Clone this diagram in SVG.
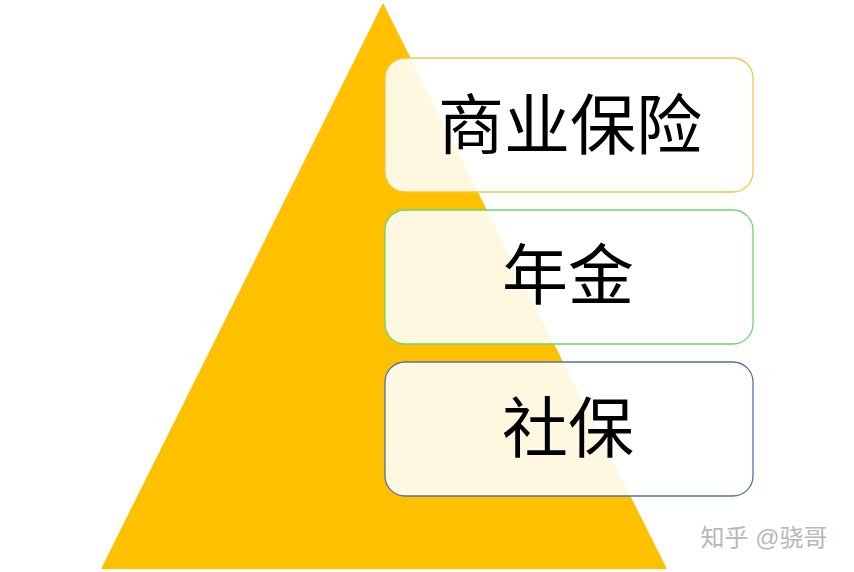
<svg xmlns="http://www.w3.org/2000/svg" width="854" height="572" viewBox="0 0 854 572">
<style>
.box{fill:#ffffff;fill-opacity:0.88;stroke-width:1.3}
.lbl{font-family:"Liberation Sans","Noto Sans CJK SC",sans-serif;font-size:66px;fill:#000;text-anchor:middle}
.wm{font-family:"Liberation Sans","Noto Sans CJK SC",sans-serif;font-size:24px;fill:#b8b8b8;text-anchor:middle}
</style>
<rect width="854" height="572" fill="#ffffff"/>
<g id="pyramid"><polygon points="383,3 101,569 667,569" fill="#ffc000"/></g>
<g id="node-commercial">
<rect class="box" x="385" y="58" width="368" height="134" rx="20" stroke="#f2c644"/>
<text class="lbl" x="570" y="149">商业保险</text>
</g>
<g id="node-annuity">
<rect class="box" x="385" y="210" width="368" height="134" rx="20" stroke="#6fd36f"/>
<text class="lbl" x="568" y="299">年金</text>
</g>
<g id="node-social">
<rect class="box" x="385" y="362" width="368" height="134" rx="20" stroke="#4f72a8"/>
<text class="lbl" x="568" y="452">社保</text>
</g>
<g id="connectors"/>
<text class="wm" x="764" y="546">知乎 @骁哥</text>
</svg>
